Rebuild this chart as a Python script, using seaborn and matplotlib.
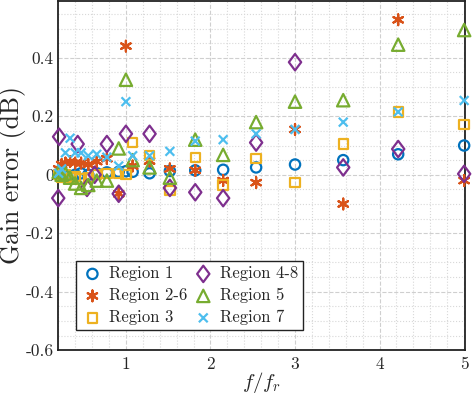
import numpy as np
import pandas as pd
import matplotlib
matplotlib.use('Agg')
import matplotlib.pyplot as plt
from matplotlib.markers import MarkerStyle
from matplotlib.transforms import Affine2D
from matplotlib.ticker import MultipleLocator
import seaborn as sns

# frequency grid (f/f_r) shared by most regions
f_grid = [0.205, 0.24, 0.285, 0.34, 0.40, 0.47, 0.555, 0.655, 0.775, 0.915, 1.0,
          1.08, 1.28, 1.52, 1.82, 2.15, 2.54, 3.0, 3.57, 4.22, 5.0]

# gain error (dB) per region
region1 = [0.0, 0.005, 0.0, -0.005, 0.0, 0.005, 0.0, 0.005, 0.008, 0.01, 0.012,
           0.01, 0.005, 0.013, 0.015, 0.017, 0.025, 0.035, 0.05, 0.07, 0.10]
region2_6 = [0.02, 0.035, 0.04, 0.045, 0.04, 0.04, 0.035, 0.045, 0.055, -0.065, 0.44,
             0.03, 0.047, 0.02, 0.015, -0.02, -0.027, 0.155, -0.10, 0.53, -0.02]
region3 = [0.0, -0.01, 0.0, -0.01, -0.005, -0.015, -0.01, 0.0, 0.005, 0.005, 0.0,
           0.11, 0.065, -0.055, 0.058, -0.035, 0.055, -0.027, 0.105, 0.215, 0.173]
f_region4_8 = [0.2, 0.21, 0.43, 0.54, 0.63, 0.775, 0.915, 1.0, 1.28, 1.52, 1.82,
               2.15, 2.54, 3.0, 3.57, 4.22, 5.0]
region4_8 = [-0.08, 0.13, 0.105, -0.045, 0.0, 0.105, -0.065, 0.14, 0.14, -0.045, -0.06,
             -0.08, 0.11, 0.385, 0.025, 0.088, 0.003]
region5 = [0.01, 0.0, 0.005, -0.01, -0.03, -0.045, -0.035, -0.02, -0.02, 0.09, 0.325,
           0.05, 0.025, -0.01, 0.12, 0.068, 0.18, 0.25, 0.255, 0.445, 0.495]
region7 = [0.005, 0.02, 0.075, 0.125, 0.075, 0.075, 0.065, 0.07, 0.06, 0.03, 0.25,
           0.065, 0.065, 0.08, 0.115, 0.12, 0.14, 0.155, 0.18, 0.215, 0.254]

labels = ['Region 1', 'Region 2-6', 'Region 3', 'Region 4-8', 'Region 5', 'Region 7']
y_ticks = [-0.6, -0.4, -0.2, 0, 0.2, 0.4]
y_tick_labels = ['-0.6', '-0.4', '-0.2', '0', '0.2', '0.4']
x_ticks = [1, 2, 3, 4, 5]

# MATLAB-like diamond: a bit narrower than tall
diamond = MarkerStyle('D', transform=Affine2D().scale(0.75, 1.0))

series = [
    (f_grid, region1, 'o', '#0072BD', 55),
    (f_grid, region2_6, (6, 2, 0), '#D95319', 60),
    (f_grid, region3, 's', '#EDB120', 45),
    (f_region4_8, region4_8, diamond, '#7E2F8E', 70),
    (f_grid, region5, '^', '#77AC30', 80),
    (f_grid, region7, 'x', '#4DBEEE', 40),
]

sns.set_theme(style='white')
plt.rcParams['font.family'] = ['cmr10', 'DejaVu Serif']
plt.rcParams['mathtext.fontset'] = 'cm'
plt.rcParams['axes.formatter.use_mathtext'] = True

fig = plt.figure(figsize=(4.74, 3.97), dpi=100)
ax = fig.add_axes([0.122, 0.118, 0.859, 0.88])

for (f, y, m, c, s), name in zip(series, labels):
    df = pd.DataFrame({'f': f, 'err': y})
    sns.scatterplot(data=df, x='f', y='err', marker=m, color=c, edgecolor=c,
                    s=s, linewidth=1.6, ax=ax, label=name, zorder=3, clip_on=False)

# hollow markers like the original
for coll in ax.collections:
    ec = coll.get_edgecolor()
    coll.set_facecolor('none')
    coll.set_edgecolor(ec)

ax.set_xlim(0.195, 5.01)
ax.set_ylim(-0.6, 0.595)
ax.set_xticks(x_ticks)
ax.set_xticklabels([str(t) for t in x_ticks])
ax.set_yticks(y_ticks)
ax.set_yticklabels(y_tick_labels)
ax.xaxis.set_minor_locator(MultipleLocator(0.2))
ax.yaxis.set_minor_locator(MultipleLocator(0.05))
ax.grid(which='major', color='#cfcfcf', linestyle='--', linewidth=0.8)
ax.grid(which='minor', color='#d8d8d8', linestyle=':', linewidth=0.8)
ax.set_axisbelow(True)
ax.tick_params(which='both', length=0, labelsize=12.5)
ax.tick_params(axis='x', pad=5)
ax.tick_params(axis='y', pad=3)

for sp in ax.spines.values():
    sp.set_color('#222222')
    sp.set_linewidth(1.3)

ax.set_xlabel('$f/f_r$', fontsize=15, labelpad=-2)
ax.set_ylabel('Gain error (dB)', fontsize=18.5, labelpad=0)

leg = ax.legend(loc='lower left', bbox_to_anchor=(0.044, 0.057), ncol=2, fontsize=12,
                frameon=True, fancybox=False, framealpha=1, edgecolor='#222222',
                borderpad=0.3, handletextpad=0.3, columnspacing=0.25,
                labelspacing=0.4, handlelength=1.4, borderaxespad=0)
leg.get_frame().set_linewidth(1.0)

fig.savefig('out.png', dpi=100)
